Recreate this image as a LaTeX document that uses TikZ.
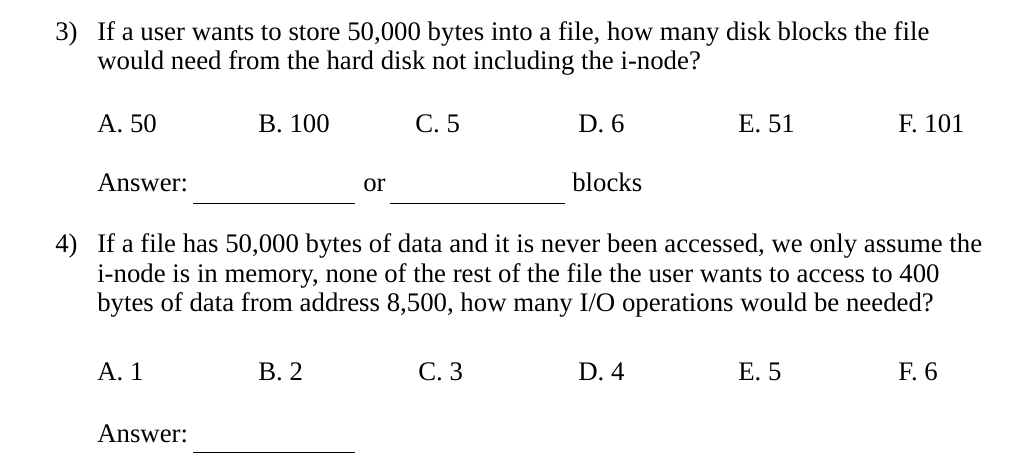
\documentclass[tikz,border=0pt]{standalone}
\usepackage{fontspec}
\setmainfont{Liberation Serif}
\begin{document}
\begin{tikzpicture}[x=0.75pt,y=-0.75pt,
  t/.style={anchor=base west,inner sep=0pt,font=\fontsize{20.1}{24}\selectfont},
  blank/.style={line width=0.6pt}]
\useasboundingbox (0,0) rectangle (1024,473);
\node[t] (q3n) at (55,41) {3)};
\node[t] (q3a) at (97,41) {If a user wants to store 50,000 bytes into a file, how many disk blocks the file};
\node[t] (q3b) at (97,70) {would need from the hard disk not including the i-node?};
\node[t] (a1) at (97,133) {A. 50};
\node[t] (b1) at (258,133) {B. 100};
\node[t] (c1) at (415,133) {C. 5};
\node[t] (d1) at (578,133) {D. 6};
\node[t] (e1) at (738,133) {E. 51};
\node[t] (f1) at (898,133) {F. 101};
\node[t] (ans1) at (97,192) {Answer:};
\coordinate (u1s) at (193,203); \coordinate (u1e) at (355,203);
\draw[blank] (u1s) -- (u1e);
\node[t] (or) at (363,192) {or};
\coordinate (u2s) at (390,203); \coordinate (u2e) at (565,203);
\draw[blank] (u2s) -- (u2e);
\node[t] (blk) at (572,192) {blocks};
\node[t] (q4n) at (55,253) {4)};
\node[t] (q4a) at (97,253) {If a file has 50,000 bytes of data and it is never been accessed, we only assume the};
\node[t] (q4b) at (97,283) {i-node is in memory, none of the rest of the file the user wants to access to 400};
\node[t] (q4c) at (97,312) {bytes of data from address 8,500, how many I/O operations would be needed?};
\node[t] (a2) at (97,381) {A. 1};
\node[t] (b2) at (258,381) {B. 2};
\node[t] (c2) at (418,381) {C. 3};
\node[t] (d2) at (578,381) {D. 4};
\node[t] (e2) at (738,381) {E. 5};
\node[t] (f2) at (898,381) {F. 6};
\node[t] (ans2) at (97,443) {Answer:};
\coordinate (u3s) at (193,452); \coordinate (u3e) at (355,452);
\draw[blank] (u3s) -- (u3e);
\end{tikzpicture}
\end{document}
